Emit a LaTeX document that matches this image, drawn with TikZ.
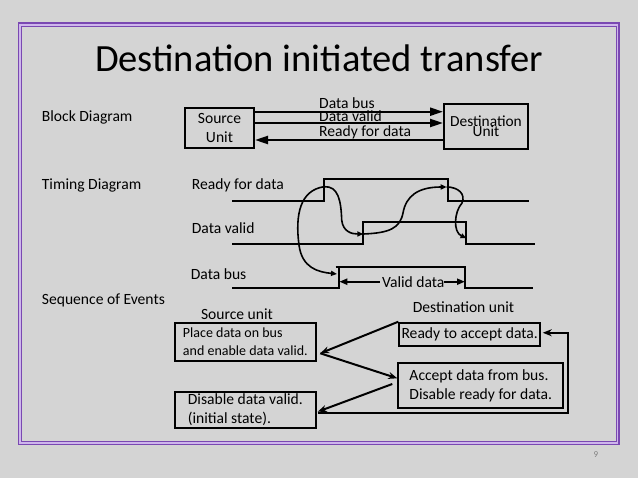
\documentclass[tikz,border=0pt]{standalone}
\usepackage{fontspec}
\setmainfont{Carlito}
\usetikzlibrary{arrows.meta}
\definecolor{slidegray}{RGB}{212,212,212}
\definecolor{framepurple}{RGB}{122,72,178}
\definecolor{framelight}{RGB}{206,182,236}
\newcommand{\tightlines}{\fontsize{15.4}{10}\selectfont\lineskiplimit=-20pt\relax}
\tikzset{
    txt/.style = {inner sep = 0pt, font = \fontsize{15.6}{18.3}\selectfont},
    unit/.style = {draw, line width = 2pt, inner sep = 1pt, align = center},
    wire/.style = {line width = 2.2pt, -{Triangle[length = 13pt, width = 8pt]}},
    wave/.style = {line width = 2pt},
    cause/.style = {line width = 1.6pt, -{Triangle[length = 6pt, width = 5pt]}},
    span/.style = {line width = 2pt, -{Triangle[length = 8pt, width = 6pt]}},
    seqbox/.style = {draw, line width = 2pt, align = left, inner sep = 1pt},
    seqarrow/.style = {line width = 2pt, -{Stealth[length = 9pt, width = 7pt]}},
}
\begin{document}
\begin{tikzpicture}[x = 1pt, y = -1pt]
        \useasboundingbox (0, 0) rectangle (638, 478);
        \fill[slidegray] (0, 0) rectangle (638, 478);
        \draw[framepurple, line width = 4.5pt] (19.75, 24.75) rectangle (617.75, 443.25);
        \draw[framelight, line width = 1.2pt] (20, 25) rectangle (617.5, 443);

        \node[anchor = base, inner sep = 0pt, font = \fontsize{38.5}{40}\selectfont] (title) at (319.1, 71.7) {Destination initiated transfer};
        \node[txt, anchor = west] (blk) at (41.7, 117.3) {Block Diagram};
        \node[txt, anchor = west] (tim) at (41.7, 185) {Timing Diagram};
        \node[txt, anchor = west] (seq) at (41.7, 300) {Sequence of Events};
        \node[gray, inner sep = 0pt, font = \fontsize{9}{10}\selectfont] (page) at (596, 455) {9};

        \begin{scope}
            \node[unit, txt, minimum width = 69, minimum height = 40] (src) at (219.5, 128) {Source\\Unit};
            \node[unit, minimum width = 84, minimum height = 45, font = \tightlines] (dest) at (486, 126.5) {Destination\\Unit};
            \node[txt, anchor = west] (lbus) at (319, 103) {Data bus};
            \node[txt, anchor = west] (lvalid) at (319, 116) {Data valid};
            \node[txt, anchor = west] (lready) at (319, 132) {Ready for data};
            \draw[wire] ([yshift = 16.3pt]src.east) -- ([yshift = 16.3pt]src.east -| dest.west);
            \draw[wire] ([yshift = 5pt]src.east) -- ([yshift = 5pt]src.east -| dest.west);
            \draw[wire] ([yshift = -12pt]src.east -| dest.west) -- ([yshift = -12pt]src.east);
        \end{scope}

        \begin{scope}
            \node[txt, anchor = west] (wready) at (191.7, 185.7) {Ready for data};
            \node[txt, anchor = west] (wvalid) at (191.7, 228) {Data valid};
            \node[txt, anchor = west] (wbus) at (190.7, 274.3) {Data bus};
            \draw[wave]
                (232, 200.7) -- (324.3, 200.7) -- (324.3, 179) -- (447.7, 179) -- (447.7, 200.7) -- (529, 200.7)
                (232, 244) -- (363.3, 244) -- (363.3, 222.5) -- (465.7, 222.5) -- (465.7, 244) -- (535, 244)
                (232, 288.3) -- (339.3, 288.3) -- (339.3, 266.7)
                (335.7, 266.7) -- (465, 266.7) -- (465, 288.3) -- (533, 288.3);
            \coordinate (busup) at (339.3, 281.7);
            \coordinate (busdown) at (465, 281.7);
            \coordinate (rdrise) at (324.3, 186.7);
            \coordinate (rdfall) at (446.7, 187);
            \coordinate (dvrise) at (363.3, 234);
            \coordinate (dvfall) at (466.5, 238.3);
            \coordinate (dbrise) at (337, 274);
            \node[txt, inner xsep = 2pt] (vd) at (413.3, 281.7) {Valid data};
            \draw[span] (vd.west) -- (busup);
            \draw[span] ([xshift = -3pt]vd.east) -- (busdown);
            \draw[cause] (rdrise) .. controls (300, 190) and (295, 215) .. (299, 245)
                .. controls (302, 268) and (318, 272) .. (dbrise);
            \draw[cause] (rdrise) .. controls (338, 186) and (341, 200) .. (341.7, 220)
                .. controls (343, 232) and (352, 234) .. (dvrise);
            \draw[cause] (dvrise) .. controls (390, 233) and (400, 228) .. (403, 213)
                .. controls (406, 196) and (418, 187) .. (rdfall);
            \draw[cause] (rdfall) .. controls (458, 187) and (466, 194) .. (462, 203)
                .. controls (454, 212) and (453, 232) .. (dvfall);
        \end{scope}

        \begin{scope}
            \node[txt] (srcunit) at (237, 314) {Source unit};
            \node[txt] (dstunit) at (463.5, 306.7) {Destination unit};
            \node[seqbox, minimum width = 140.7, minimum height = 37.4,
                font = \fontsize{14}{17.7}\selectfont] (place) at (245.35, 342) {Place data on bus\\and enable data valid.};
            \node[seqbox, minimum width = 140.7, minimum height = 23.3,
                font = \fontsize{15.6}{18.3}\selectfont] (ready) at (469.7, 334.35) {Ready to accept data.};
            \node[seqbox, minimum width = 165, minimum height = 45,
                font = \fontsize{15.6}{18.3}\selectfont] (accept) at (480.8, 385.8) {Accept data from bus.\\Disable ready for data.};
            \node[seqbox, minimum width = 140.7, minimum height = 36,
                font = \fontsize{15.6}{18.3}\selectfont] (disable) at (245.35, 409.7) {Disable data valid.\\(initial state).};
            \coordinate (pe) at ([xshift = 3.6pt, yshift = -11.3pt]place.east);
            \draw[seqarrow] (ready.north west) -- (pe);
            \draw[seqarrow] (pe) -- ([yshift = 7.5pt]accept.west);
            \draw[seqarrow] ([xshift = -5pt, yshift = 1.8pt]accept.west) -- ([xshift = 1pt, yshift = -2pt]disable.east);
            \draw[seqarrow] ([xshift = 1pt, yshift = -3.6pt]disable.east) -- ++(250.6, 0) |- ([xshift = 1.7pt, yshift = 1.6pt]ready.east);
        \end{scope}
    \end{tikzpicture}
\end{document}
